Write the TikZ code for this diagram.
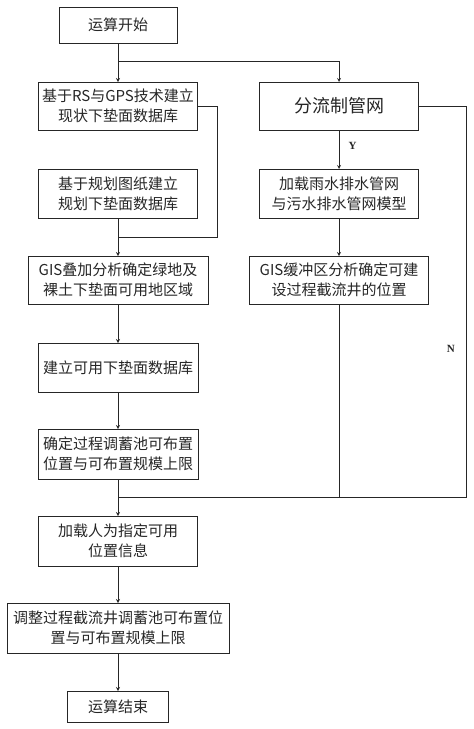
\documentclass[tikz,border=0pt]{standalone}
\usepackage{fontspec}
\setmainfont{Noto Sans CJK SC}
\newfontfamily\yesnofont{Liberation Serif}
\usetikzlibrary{positioning}

\begin{document}
\begin{tikzpicture}[auto, node distance=38pt, >=stealth,
                box/.style = {draw, line width=1pt, inner sep=0pt, outer sep=0pt, align=center, font=\fontsize{15}{20}\selectfont},
                yn/.style = {font=\yesnofont\bfseries\fontsize{11}{12}\selectfont},
                every path/.style = {color=black!85, line width=0.8pt}]
                \useasboundingbox (0,0) rectangle (474pt,-729pt);
                % left column
                \node[box, minimum width=118pt, minimum height=36pt] (start) at (118pt,-25pt) {运算开始};
                \node[box, minimum width=159pt, minimum height=48pt] (rs) [below=39pt of start] {基于RS与GPS技术建立\\现状下垫面数据库};
                \node[box, minimum width=159pt, minimum height=49pt] (gh) [below=39pt of rs] {基于规划图纸建立\\规划下垫面数据库};
                \node[box, minimum width=180pt, minimum height=48pt] (gis) [below=38pt of gh] {GIS叠加分析确定绿地及\\裸土下垫面可用地区域};
                \node[box, minimum width=160pt, minimum height=49pt] (jl) [below=39pt of gis] {建立可用下垫面数据库};
                \node[box, minimum width=160pt, minimum height=50pt] (qd) [below=37pt of jl] {确定过程调蓄池可布置\\位置与可布置规模上限};
                \node[box, minimum width=159pt, minimum height=50pt] (jr) [below=37pt of qd] {加载人为指定可用\\位置信息};
                \node[box, minimum width=222pt, minimum height=50pt] (tz) [below=37pt of jr] {调整过程截流井调蓄池可布置位\\置与可布置规模上限};
                \node[box, minimum width=101pt, minimum height=31pt] (end) [below=38pt of tz] {运算结束};
                % right column
                \node[box, minimum width=159pt, minimum height=48pt, font=\fontsize{18}{22}\selectfont] (fl) [right=62pt of rs] {分流制管网};
                \node[box, minimum width=159pt, minimum height=49pt] (jz) [below=39pt of fl] {加载雨水排水管网\\与污水排水管网模型};
                \node[box, minimum width=179pt, minimum height=48pt] (hc) [below=38pt of jz] {GIS缓冲区分析确定可建\\设过程截流井的位置};
                % junctions
                \coordinate[below=18pt of start] (sp);
                \coordinate[below=19pt of gh] (jn1);
                \coordinate[below=18pt of qd] (jn2);
                \path
                    (start) edge (sp)
                    (sp) edge[->] (rs)
                    (gh) edge (jn1)
                    (jn1) edge[->] (gis)
                    (gis) edge[->] (jl)
                    (jl) edge[->] (qd)
                    (qd) edge (jn2)
                    (jn2) edge[->] (jr)
                    (jr) edge[->] (tz)
                    (tz) edge[->] (end)
                    (jz) edge[->] (hc);
                \draw[->] (sp) -| (fl);
                \draw (rs.east) -- ++(20pt,0) |- (jn1);
                \draw[->] (fl) -- node[yn, right=6pt, pos=0.4] {Y} (jz);
                \draw (hc) -- (hc |- jn2);
                \draw (fl.east) -- ++(48pt,0) |- node[yn, left=8pt, pos=0.31] {N} (jn2);
            \end{tikzpicture}
\end{document}
